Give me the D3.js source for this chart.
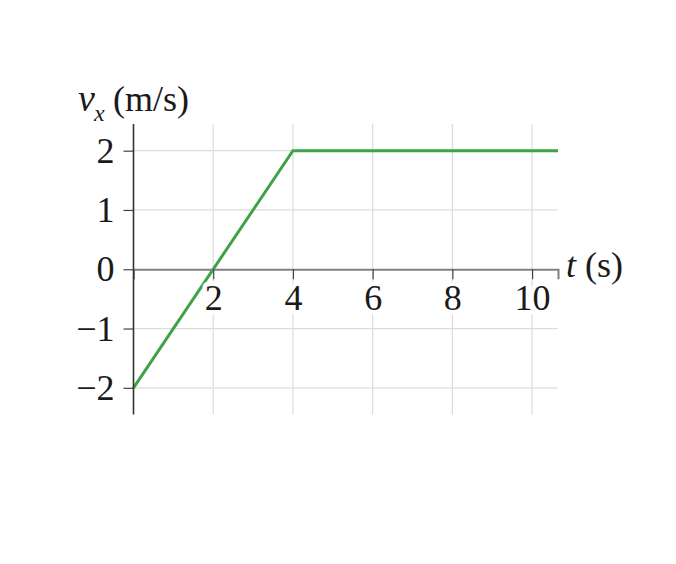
<!DOCTYPE html>
<html>
<head>
<meta charset="utf-8">
<script src="https://cdn.jsdelivr.net/npm/d3@7"></script>
<style>
  body { margin: 0; background: #fff; }
  svg text { font-family: "Liberation Serif", "Times New Roman", serif; fill: #1a1a1a; }
</style>
</head>
<body>
<svg id="chart" width="676" height="564"></svg>
<script>
// velocity vs time
const times = [0, 4, 10.65];
const velocities = [-2, 2, 2];
const xTicks = [2, 4, 6, 8, 10];
const yTicks = [-2, -1, 0, 1, 2];
const xGrid = [2, 4, 6, 8, 10];
const yGrid = [-2, -1, 1, 2];

const svg = d3.select("#chart");
const fontSize = 36;

const x = d3.scaleLinear().domain([0, 10.65]).range([133.5, 558]);
const y = d3.scaleLinear().domain([-2.45, 2.45]).range([414.5, 124]);

// grid
svg.append("g")
  .selectAll("line")
  .data(xGrid)
  .join("line")
  .attr("x1", (d) => x(d))
  .attr("x2", (d) => x(d))
  .attr("y1", y(2.45))
  .attr("y2", y(-2.45))
  .attr("stroke", "#dcdcdc")
  .attr("stroke-width", 1.2);

svg.append("g")
  .selectAll("line")
  .data(yGrid)
  .join("line")
  .attr("x1", x(0))
  .attr("x2", x(10.65))
  .attr("y1", (d) => y(d))
  .attr("y2", (d) => y(d))
  .attr("stroke", "#dcdcdc")
  .attr("stroke-width", 1.2);

// the data line
const points = times.map((t, i) => [t, velocities[i]]);
svg.append("path")
  .datum(points)
  .attr("fill", "none")
  .attr("stroke", "#3fa346")
  .attr("stroke-width", 3)
  .attr("stroke-linejoin", "miter")
  .attr("d", d3.line().x((d) => x(d[0])).y((d) => y(d[1])));

// x axis through v = 0
const xAxis = svg.append("g")
  .attr("transform", `translate(0,${y(0)})`)
  .call(d3.axisBottom(x).tickValues(xTicks).tickSize(10).tickPadding(5).tickFormat(d3.format("d")));
xAxis.select(".domain").attr("stroke", "#808080").attr("stroke-width", 2);
xAxis.selectAll(".tick line").attr("stroke", "#444").attr("stroke-width", 1.2);
xAxis.selectAll(".tick text")
  .attr("font-size", fontSize)
  .attr("stroke", "#fff")
  .attr("stroke-width", 9)
  .attr("paint-order", "stroke")
  .attr("stroke-linejoin", "round");

// y axis at t = 0
const yAxis = svg.append("g")
  .attr("transform", `translate(${x(0)},0)`)
  .call(d3.axisLeft(y).tickValues(yTicks).tickSize(10).tickPadding(9).tickFormat(d3.format("d")));
yAxis.select(".domain").remove();
yAxis.append("line")
  .attr("x1", 0).attr("x2", 0)
  .attr("y1", y(2.45)).attr("y2", y(-2.45))
  .attr("stroke", "#333").attr("stroke-width", 1.6);
yAxis.selectAll(".tick line").attr("stroke", "#444").attr("stroke-width", 1.2);
yAxis.selectAll(".tick text").attr("font-size", fontSize);

// axis titles: v with subscript x, then the unit
svg.append("text")
  .attr("x", 78)
  .attr("y", 111)
  .attr("font-size", 38)
  .attr("font-style", "italic")
  .text("v");
svg.append("text")
  .attr("x", 94)
  .attr("y", 121)
  .attr("font-size", 24)
  .attr("font-style", "italic")
  .text("x");
svg.append("text")
  .attr("x", 113)
  .attr("y", 111)
  .attr("font-size", fontSize)
  .text("(m/s)");

const xTitle = svg.append("text")
  .attr("x", 566)
  .attr("y", 277)
  .attr("font-size", fontSize);
xTitle.append("tspan").attr("font-style", "italic").text("t");
xTitle.append("tspan").text(" (s)");
</script>
</body>
</html>
